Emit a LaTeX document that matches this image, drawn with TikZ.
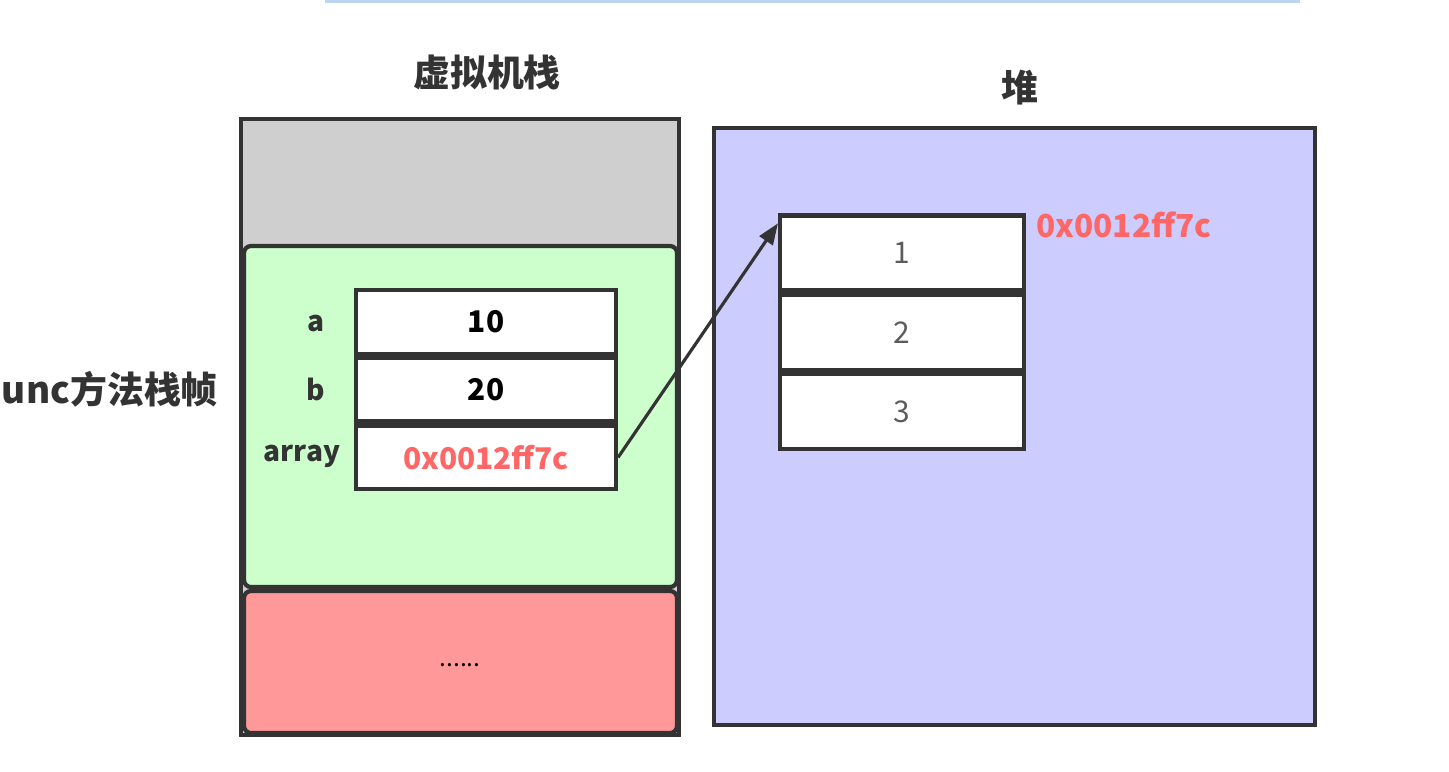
\documentclass[tikz,border=0pt]{standalone}
\usepackage{fontspec}
\setmainfont{Noto Sans CJK SC}
\usetikzlibrary{arrows.meta,positioning}
\definecolor{stackgray}{HTML}{CFCFCF}
\definecolor{framegreen}{HTML}{CCFFCC}
\definecolor{framered}{HTML}{FF9999}
\definecolor{heapblue}{HTML}{CCCCFF}
\definecolor{addrred}{HTML}{FF6666}
\definecolor{edgegray}{HTML}{333333}
\definecolor{stripblue}{HTML}{BDD5F0}
\tikzset{
  box/.style = {draw=edgegray, line width=2.4pt},
  cell/.style = {box, fill=white, minimum width=5.2cm, minimum height=1.27cm, inner sep=0pt, font=\fontsize{17}{17}\selectfont\bfseries},
  heapcell/.style = {box, fill=white, minimum width=4.88cm, minimum height=1.5cm, inner sep=0pt, font=\fontsize{17}{17}\selectfont, text=edgegray!80},
  varname/.style = {font=\fontsize{16}{16}\selectfont\bfseries, text=edgegray},
  title/.style = {font=\fontsize{21}{21}\selectfont\bfseries, text=edgegray}
}
\begin{document}
\begin{tikzpicture}[x=0.02cm, y=-0.02cm]
\useasboundingbox (0,0) rectangle (1449,771);
\fill[stripblue] (325,0) rectangle (1300,3);
% stack
\draw[box, fill=stackgray] (241,119) rectangle (679,735);
\draw[box, fill=framegreen, rounded corners=4pt] (244,246) rectangle (677,587);
\draw[box, fill=framered, rounded corners=4pt] (244,591) rectangle (677,733);
\node (dots) at (460,665) {\fontsize{14}{14}\selectfont ......};
\node[title] (vmstack) at (487,72) {虚拟机栈};
\node[title, font=\fontsize{21}{21}\selectfont\bfseries, anchor=east] (framelbl) at (224,389) {unc方法栈帧};
\node[cell] (ca) at (486,322) {10};
\node[cell, below=0pt of ca] (cb) {20};
\node[cell, below=0pt of cb, text=addrred] (carr) {0x0012ff7c};
\node[varname] (la) at (316,323) {a};
\node[varname] (lb) at (316,389) {b};
\node[varname] (larr) at (302,456) {array};
% heap
\draw[box, fill=heapblue] (714,128) rectangle (1315,725);
\node[title] (heap) at (1020,88) {堆};
\node[heapcell] (h1) at (902,253) {1};
\node[heapcell, below=0pt of h1] (h2) {2};
\node[heapcell, below=0pt of h2] (h3) {3};
\node[font=\fontsize{18}{18}\selectfont\bfseries, text=addrred, anchor=west] (haddr) at (1030,225) {0x0012ff7c};
\draw[-{Triangle[length=12pt,width=9pt]}, line width=1.8pt, edgegray] (carr.east) -- ([yshift=-0.2cm]h1.north west);
\end{tikzpicture}
\end{document}
